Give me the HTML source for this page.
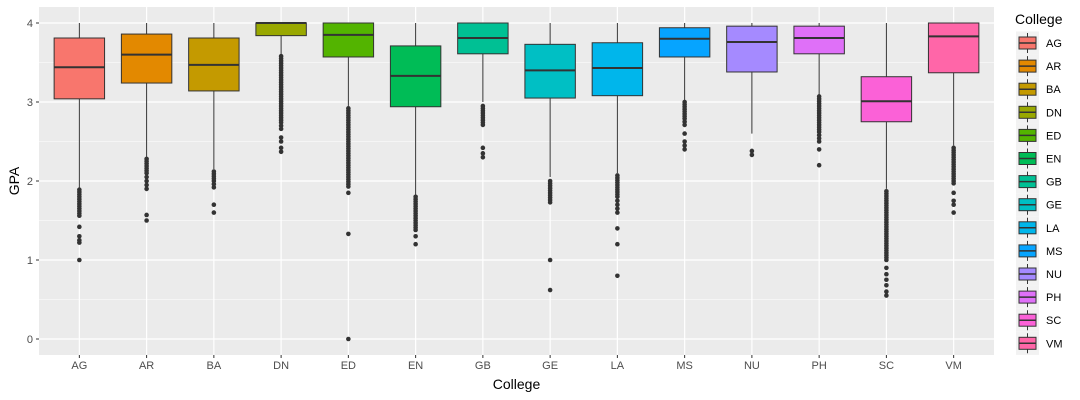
<!DOCTYPE html>
<html><head><meta charset="utf-8"><style>
body{margin:0;background:#fff;}
svg{display:block;font-family:"Liberation Sans",Arial,sans-serif;}
</style></head><body>
<svg id="chart" width="1080" height="400"></svg>
<script>
const categories=["AG","AR","BA","DN","ED","EN","GB","GE","LA","MS","NU","PH","SC","VM"];
const colors=["#F8766D","#E38900","#C49A00","#99A800","#53B400","#00BC56","#00C094","#00BFC4","#00B6EB","#06A4FF","#A58AFF","#DF70F8","#FB61D7","#FF66A8"];
const whiskerHigh=[4.0,4.0,4.0,4.0,4.0,4.0,4.0,4.0,4.0,4.0,4.0,4.0,4.0,4.0];
const q3=[3.81,3.86,3.81,4.0,4.0,3.71,4.0,3.73,3.75,3.94,3.96,3.96,3.32,4.0];
const medians=[3.44,3.60,3.47,4.0,3.85,3.33,3.81,3.40,3.43,3.80,3.76,3.81,3.01,3.83];
const q1=[3.04,3.24,3.14,3.84,3.57,2.94,3.61,3.05,3.08,3.57,3.38,3.61,2.75,3.37];
const whiskerLow=[1.91,2.30,2.15,3.60,2.95,1.82,3.0,2.05,2.10,3.02,2.60,3.08,1.90,2.45];
const outliers=[
[1.89,1.86,1.83,1.8,1.77,1.74,1.71,1.68,1.65,1.62,1.59,1.56,1.42,1.3,1.25,1.22,1.0],
[2.28,2.25,2.22,2.19,2.16,2.13,2.1,2.05,2.0,1.95,1.9,1.57,1.5],
[2.12,2.09,2.06,2.03,2.0,1.96,1.92,1.7,1.6],
[3.58,3.55,3.52,3.49,3.46,3.43,3.4,3.37,3.34,3.31,3.28,3.25,3.22,3.19,3.16,3.13,3.1,3.07,3.04,3.01,2.98,2.95,2.92,2.89,2.86,2.83,2.8,2.77,2.74,2.7,2.66,2.55,2.5,2.42,2.37],
[2.92,2.89,2.86,2.83,2.8,2.77,2.74,2.71,2.68,2.65,2.62,2.59,2.56,2.53,2.5,2.47,2.44,2.41,2.38,2.35,2.32,2.29,2.26,2.23,2.2,2.17,2.14,2.11,2.08,2.05,2.02,1.99,1.96,1.93,1.85,1.33,0.0],
[1.8,1.77,1.74,1.71,1.68,1.65,1.62,1.59,1.56,1.53,1.5,1.47,1.44,1.41,1.38,1.3,1.2],
[2.95,2.92,2.89,2.86,2.83,2.8,2.77,2.74,2.71,2.42,2.35,2.3],
[2.0,1.97,1.94,1.91,1.88,1.85,1.82,1.79,1.76,1.73,1.0,0.62],
[2.07,2.04,2.01,1.98,1.95,1.92,1.89,1.86,1.83,1.8,1.75,1.7,1.65,1.6,1.4,1.2,0.8],
[3.0,2.97,2.94,2.91,2.88,2.85,2.82,2.79,2.75,2.71,2.6,2.5,2.45,2.4],
[2.38,2.33],
[3.07,3.04,3.01,2.98,2.95,2.92,2.89,2.86,2.83,2.8,2.77,2.74,2.71,2.68,2.65,2.62,2.58,2.54,2.5,2.4,2.2],
[1.87,1.84,1.81,1.78,1.75,1.72,1.69,1.66,1.63,1.6,1.57,1.54,1.51,1.48,1.45,1.42,1.39,1.36,1.33,1.3,1.27,1.24,1.21,1.18,1.15,1.12,1.09,1.06,1.03,1.0,0.9,0.82,0.75,0.68,0.6,0.55],
[2.42,2.39,2.36,2.33,2.3,2.27,2.24,2.21,2.18,2.15,2.12,2.09,2.06,2.03,2.0,1.97,1.85,1.75,1.7,1.6]
];
const yTicks=[0,1,2,3,4];
const yMinor=[0.5,1.5,2.5,3.5];

const NS="http://www.w3.org/2000/svg";
const svg=document.getElementById("chart");
const PL=39,PR=994,PT=7,PB=355;
const xs=i=>PL+(i+0.6)*(PR-PL)/14.2;
const ys=v=>339-79*v;
function mk(tag,attrs,parent){const e=document.createElementNS(NS,tag);for(const k in attrs)e.setAttribute(k,attrs[k]);(parent||svg).appendChild(e);return e;}

const panel=mk("rect",{x:PL,y:PT,width:PR-PL,height:PB-PT,fill:"#EBEBEB"});


yMinor.forEach(v=>{const l=mk("line",{x1:PL,x2:PR,y1:ys(v),y2:ys(v),stroke:"#fff","stroke-width":0.6});

});
yTicks.forEach(v=>{const l=mk("line",{x1:PL,x2:PR,y1:ys(v),y2:ys(v),stroke:"#fff","stroke-width":1.2});


const t=mk("line",{x1:PL-3,x2:PL,y1:ys(v),y2:ys(v),stroke:"#333","stroke-width":1});


const tx=mk("text",{x:PL-6,y:ys(v)+4,"text-anchor":"end","font-size":11,fill:"#4D4D4D"});tx.textContent=v;

});
categories.forEach((c,i)=>{const x=xs(i);
const g=mk("line",{x1:x,x2:x,y1:PT,y2:PB,stroke:"#fff","stroke-width":1.2});


const t=mk("line",{x1:x,x2:x,y1:PB,y2:PB+3,stroke:"#333","stroke-width":1});


const tx=mk("text",{x:x,y:PB+14,"text-anchor":"middle","font-size":11,fill:"#4D4D4D"});tx.textContent=c;

});
const hw=0.375*(PR-PL)/14.2;
categories.forEach((c,i)=>{const x=xs(i);
const g=mk("g",{});


mk("line",{x1:x,x2:x,y1:ys(whiskerHigh[i]),y2:ys(q3[i]),stroke:"#333","stroke-width":1},g);
mk("line",{x1:x,x2:x,y1:ys(q1[i]),y2:ys(whiskerLow[i]),stroke:"#333","stroke-width":1},g);
mk("rect",{x:x-hw,y:ys(q3[i]),width:2*hw,height:Math.max(0.5,ys(q1[i])-ys(q3[i])),fill:colors[i],stroke:"#333","stroke-width":1},g);
mk("line",{x1:x-hw,x2:x+hw,y1:ys(medians[i]),y2:ys(medians[i]),stroke:"#333","stroke-width":2},g);
outliers[i].forEach(v=>{const p=mk("circle",{cx:x,cy:ys(v),r:2.3,fill:"#333"},g);

});});
const yt=mk("text",{x:19,y:181,"text-anchor":"middle","font-size":14,fill:"#000",transform:"rotate(-90 19 181)"});yt.textContent="GPA";


const xt=mk("text",{x:(PL+PR)/2,y:389,"text-anchor":"middle","font-size":14,fill:"#000"});xt.textContent="College";


const lt=mk("text",{x:1015,y:24,"font-size":14,fill:"#000"});lt.textContent="College";


categories.forEach((c,i)=>{const cy=43+i*23.1;
const g=mk("g",{});


mk("rect",{x:1016,y:cy-11.5,width:23,height:23.1,fill:"#F2F2F2"},g);
mk("line",{x1:1027.5,x2:1027.5,y1:cy-10,y2:cy+10,stroke:"#333","stroke-width":1},g);
mk("rect",{x:1019,y:cy-6,width:17,height:12,fill:colors[i],stroke:"#333","stroke-width":1},g);
mk("line",{x1:1019,x2:1036,y1:cy,y2:cy,stroke:"#333","stroke-width":1.5},g);
const tx=mk("text",{x:1046,y:cy+4,"font-size":11,fill:"#000"},g);tx.textContent=c;});
</script>
</body></html>
